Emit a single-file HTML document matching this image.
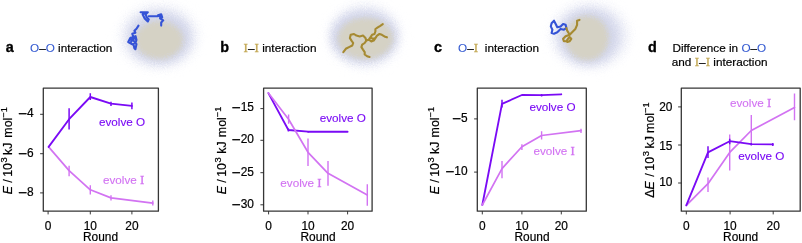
<!DOCTYPE html>
<html lang="en"><head><meta charset="utf-8"><title>Interaction energies</title>
<style>
html,body{margin:0;padding:0;background:#fff;}
svg{display:block;}
text{font-family:"Liberation Sans",sans-serif;font-size:11.9px;fill:#000;stroke:#000;stroke-width:0.2px;}
.ser{font-family:"Liberation Serif",serif;font-size:12.9px;}
.b{font-weight:bold;font-size:14.4px;fill:#000;stroke:#000;stroke-width:0.3px;}
.it{font-style:italic;}
.tt{font-size:11.75px;}
.ev{font-size:11.7px;stroke-width:0.12px;}
.tt .ser{font-size:13.2px;}
.tt .gd{fill:#c4aa58;stroke:#c4aa58;}
.tt .gd .ser{stroke:#c4aa58;stroke-width:0.3px;}
.sup{font-size:9.4px;}
.yl{font-size:12.4px;}
.mn{font-size:15.5px;}
.lt .ser{stroke:#d273f2;stroke-width:0.3px;}.gd .ser{stroke:#b8962e;stroke-width:0.25px;}
.dk{fill:#7a0af5;stroke:#7a0af5;}.lt{fill:#d273f2;stroke:#d273f2;}.bl{fill:#3359d1;stroke:#3359d1;stroke-width:0.05px;}.gd{fill:#b8962e;stroke:#b8962e;}
.fr{fill:none;stroke:#363636;stroke-width:1.3;stroke-linejoin:round;}
.tk{stroke:#222;stroke-width:0.9;fill:none;}
.lo{stroke:#7a0af5;stroke-width:1.85;fill:none;stroke-linejoin:round;stroke-linecap:round;}
.li{stroke:#d273f2;stroke-width:1.7;fill:none;stroke-linejoin:round;stroke-linecap:round;}
.eo{stroke:#7a0af5;stroke-width:1.5;fill:none;}
.ei{stroke:#d273f2;stroke-width:1.4;fill:none;}
.cb{fill:none;stroke:#3453d6;stroke-width:2.1;filter:url(#cf);stroke-linejoin:round;stroke-linecap:round;}
.cg{fill:none;stroke:#a68a30;stroke-width:2.1;filter:url(#cf);stroke-linejoin:round;stroke-linecap:round;}
</style></head><body>
<svg width="802" height="243" viewBox="0 0 802 243">
<defs>
<filter id="bl2" x="-40%" y="-40%" width="180%" height="180%"><feGaussianBlur stdDeviation="2.4" result="b"/><feTurbulence type="fractalNoise" baseFrequency="0.9" numOctaves="2" seed="3" result="n"/><feDisplacementMap in="b" in2="n" scale="5" xChannelSelector="R" yChannelSelector="G"/></filter>
<filter id="bl5" x="-40%" y="-40%" width="180%" height="180%"><feGaussianBlur stdDeviation="4.5" result="b"/><feTurbulence type="fractalNoise" baseFrequency="0.9" numOctaves="2" seed="7" result="n"/><feDisplacementMap in="b" in2="n" scale="9" xChannelSelector="R" yChannelSelector="G"/></filter>
<filter id="bl8" x="-50%" y="-50%" width="200%" height="200%"><feGaussianBlur stdDeviation="6" result="b"/><feTurbulence type="fractalNoise" baseFrequency="0.9" numOctaves="2" seed="11" result="n"/><feDisplacementMap in="b" in2="n" scale="12" xChannelSelector="R" yChannelSelector="G"/></filter>
<filter id="cf" x="-20%" y="-20%" width="140%" height="140%"><feGaussianBlur stdDeviation="0.45"/></filter>
</defs>
<g id="blob-a">
<ellipse cx="159" cy="36.5" rx="37" ry="30" fill="#e6e8f4" filter="url(#bl8)"/>
<ellipse cx="159.5" cy="38" rx="30.5" ry="25" fill="#d2d5e9" filter="url(#bl5)"/>
<ellipse cx="159.3" cy="40" rx="23.6" ry="18.8" fill="#d5d2c5" filter="url(#bl2)"/>
<path class="cb" d="M140.6 12.2L147.8 12.2L145.7 14.3L146.7 17.3L148.8 19.4L147.8 21.5L144.7 18.4L142.6 14.3L146 13.2M148.8 16.3L158 16.3M158 15.3L161.2 14.3L162.2 17.3L160.1 18.4L163.2 20.4L161.2 22.5L161.2 25.6M159 15.6L160.4 17.2"/>
<path class="cb" d="M138.5 25.6L136.5 28.7L134.4 30.7L135.4 32.8L132.3 33.8L133.4 36.9L130.3 37.9L128.2 42L130.3 43.1L132.3 40L134.4 37.9L136.5 40L135.4 43.1L133.4 44.1L134.4 48.2L135.4 49.2L136.5 44.1M133.4 36.9L135.6 36.2L136.5 40M130.3 37.9L131.6 41M128.2 42L132.3 44.4L135.4 43.1M131 38.5L134.4 41.5"/>
</g>
<g id="blob-b">
<ellipse cx="365" cy="35.5" rx="33" ry="29.5" fill="#e6e8f4" filter="url(#bl8)"/>
<ellipse cx="364" cy="37" rx="33" ry="25.5" fill="#d2d5e9" filter="url(#bl5)"/>
<ellipse cx="365.5" cy="38.5" rx="27.5" ry="20.5" fill="#d5d2c5" filter="url(#bl2)"/>
<path class="cg" d="M343.3 52.1L345.8 48.8L349 47.1L352.3 45.5L353.2 43L351.5 40.6L349.9 38.1L350.7 34.8L354 34L356.4 35.6L359.7 36.4L363 35.6L365.5 38.1L366.3 40.6L364.7 43L362.2 44.7L361.4 47.1L363 49.6L364.7 52.1L364.7 54.5L367.1 56.2L369.6 57M366.3 40.6L368.8 39.7L370.4 37.3L372.1 34.8L374.5 34L375.4 31.5L375.4 29L377.8 27.4L380.3 25.8L382.8 24.1M370.4 37.3L372.9 38.9L375.4 38.1L373.7 40.6L371.3 41.4L368.8 39.7M375.4 38.1L377 35.6L379.5 34L381.9 34.8L384.4 36.4L386.9 37.3"/>
</g>
<g id="blob-c">
<ellipse cx="590" cy="35.5" rx="37" ry="31" fill="#e6e8f4" filter="url(#bl8)"/>
<ellipse cx="588.5" cy="37" rx="29" ry="27" fill="#d2d5e9" filter="url(#bl5)"/>
<ellipse cx="587" cy="38" rx="21.5" ry="22.3" fill="#d5d2c5" filter="url(#bl2)"/>
<path class="cb" d="M554 20.7L551.6 23.2L550.8 26.4L552.4 29.7L551.6 33L554 33.8L557.3 32.2L560.6 28.9L563.9 29.7L566.4 28.1L565.6 24.8L563.1 24L560.6 26.4L557.3 27.3L555.7 24Z"/>
<path class="cg" d="M579.5 19.9L577.1 20.7L577.1 24.8L575.4 28.9L572.1 32.2L569.7 34.7L565.6 36.3L563.1 38.8L563.9 41.2L566.4 41.2L568 38.8L569.7 37.1L571.3 38.8L569.7 41.2L567.2 42M566.4 28.1L567.2 30.6L569.7 34.7"/>
</g>

<text class="b" x="5.8" y="51.6">a</text>
<text class="tt" x="30" y="51.6"><tspan class="bl">O</tspan>–<tspan class="bl">O</tspan> interaction</text>
<text class="b" x="220.3" y="51.6">b</text>
<text class="tt" x="243.6" y="51.6"><tspan class="gd"><tspan class="ser">I</tspan></tspan>–<tspan class="gd"><tspan class="ser">I</tspan></tspan> interaction</text>
<text class="b" x="434" y="51.6">c</text>
<text class="tt" x="458" y="51.6"><tspan class="bl">O</tspan>–<tspan class="gd"><tspan class="ser">I</tspan></tspan></text>
<text class="tt" x="484.8" y="51.6">interaction</text>
<text class="b" x="647.9" y="51.6">d</text>
<text class="tt" x="672.4" y="51.6">Difference in <tspan class="bl">O</tspan>–<tspan class="bl">O</tspan></text>
<text class="tt" x="671.8" y="65.5">and <tspan class="gd"><tspan class="ser">I</tspan></tspan>–<tspan class="gd"><tspan class="ser">I</tspan></tspan> interaction</text>
<g id="panel-a">
<polyline class="li" points="48.6,146.9 69.1,170.6 90.3,189.8 111,197.9 152.8,203.1"/>
<path class="ei" d="M69.1 165.7V176.3M90.3 185.3V194.4M111 195.2V200.6M152.8 200.6V205.6"/>
<polyline class="lo" points="48.6,146.9 69.1,119.2 90.3,97 111,103.7 131.9,105.8"/>
<path class="eo" d="M69.1 108.2V129.6M90.3 93.2V100M111 101.7V105.9M131.9 102.6V109.2"/>
<rect class="fr" x="43.3" y="88.2" width="115.1" height="123"/>
<path class="tk" d="M48.1 211.2v3.2M90.3 211.2v3.2M131.9 211.2v3.2M43.3 114.3h-3.2M43.3 153.7h-3.2M43.3 192.9h-3.2"/>
<text x="48.1" y="229.5" text-anchor="middle">0</text>
<text x="90.3" y="229.5" text-anchor="middle">10</text>
<text x="131.9" y="229.5" text-anchor="middle">20</text>
<text x="33.6" y="116.6" text-anchor="end"><tspan class="mn" dy="1.9">−</tspan><tspan dy="-1.9">4</tspan></text>
<text x="33.6" y="157.1" text-anchor="end"><tspan class="mn" dy="1.9">−</tspan><tspan dy="-1.9">6</tspan></text>
<text x="33.6" y="195.9" text-anchor="end"><tspan class="mn" dy="1.9">−</tspan><tspan dy="-1.9">8</tspan></text>
<text x="100.5" y="241.4" text-anchor="middle">Round</text>
<text class="yl" transform="rotate(-90)" y="12.3"><tspan class="it" x="-194.3">E</tspan><tspan x="-182.8">/</tspan><tspan x="-176.8">10</tspan><tspan class="sup" dx="0.6" dy="-5">3</tspan><tspan x="-155" dy="5">kJ</tspan><tspan x="-137.7">mol</tspan><tspan class="sup" dy="-5">−1</tspan></text>
<text class="ev dk" x="99" y="126.1">evolve O</text>
<text class="ev lt" x="103" y="183.6">evolve <tspan class="ser">I</tspan></text>
</g>
<g id="panel-b">
<polyline class="lo" points="268.4,93.1 288.4,130 308,131.7 327.8,131.7 347.6,131.7"/>
<path class="eo" d="M288.4 128.5V131.5M308 131V132.4"/>
<polyline class="li" points="268.4,93.1 288.6,119.2 308,152.3 328,173.3 367.3,195"/>
<path class="ei" d="M288.6 114.5V123.7M308 138.4V166M328 161V185.8M367.3 184.3V205.8"/>
<rect class="fr" x="263.6" y="88.2" width="108.5" height="123"/>
<path class="tk" d="M268.6 211.2v3.2M308 211.2v3.2M347.6 211.2v3.2M263.6 108.6h-3.2M263.6 140.3h-3.2M263.6 172.7h-3.2M263.6 204.8h-3.2"/>
<text x="268.6" y="229.5" text-anchor="middle">0</text>
<text x="308" y="229.5" text-anchor="middle">10</text>
<text x="347.6" y="229.5" text-anchor="middle">20</text>
<text x="253.9" y="110.9" text-anchor="end"><tspan class="mn" dy="1.9">−</tspan><tspan dy="-1.9">15</tspan></text>
<text x="253.9" y="143.1" text-anchor="end"><tspan class="mn" dy="1.9">−</tspan><tspan dy="-1.9">20</tspan></text>
<text x="253.9" y="176.1" text-anchor="end"><tspan class="mn" dy="1.9">−</tspan><tspan dy="-1.9">25</tspan></text>
<text x="253.9" y="208.2" text-anchor="end"><tspan class="mn" dy="1.9">−</tspan><tspan dy="-1.9">30</tspan></text>
<text x="318" y="241.4" text-anchor="middle">Round</text>
<text class="yl" transform="rotate(-90)" y="226"><tspan class="it" x="-194.3">E</tspan><tspan x="-182.8">/</tspan><tspan x="-176.8">10</tspan><tspan class="sup" dx="0.6" dy="-5">3</tspan><tspan x="-153.8" dy="5">kJ</tspan><tspan x="-137.2">mol</tspan><tspan class="sup" dy="-5">−1</tspan></text>
<text class="ev dk" x="319.7" y="122.3">evolve O</text>
<text class="ev lt" x="280.3" y="187.2">evolve <tspan class="ser">I</tspan></text>
</g>
<g id="panel-c">
<polyline class="lo" points="482.3,205 502,103.9 521.9,95 541.6,95.2 561.3,94.3"/>
<path class="eo" d="M502 99.8V107.4M541.6 93.9V96.5"/>
<polyline class="li" points="482.3,205 502,168.6 521.9,146.7 541.6,135.5 581,130.7"/>
<path class="ei" d="M502 161V178.3M521.9 144.2V150M541.6 131.2V139.5M581 128.7V133"/>
<rect class="fr" x="477.3" y="88.2" width="109" height="123"/>
<path class="tk" d="M482.3 211.2v3.2M521.9 211.2v3.2M561.3 211.2v3.2M477.3 118.9h-3.2M477.3 172.1h-3.2"/>
<text x="482.3" y="229.5" text-anchor="middle">0</text>
<text x="521.9" y="229.5" text-anchor="middle">10</text>
<text x="561.3" y="229.5" text-anchor="middle">20</text>
<text x="467.6" y="122.2" text-anchor="end"><tspan class="mn" dy="1.9">−</tspan><tspan dy="-1.9">5</tspan></text>
<text x="467.6" y="174.8" text-anchor="end"><tspan class="mn" dy="1.9">−</tspan><tspan dy="-1.9">10</tspan></text>
<text x="532" y="241.4" text-anchor="middle">Round</text>
<text class="yl" transform="rotate(-90)" y="439.2"><tspan class="it" x="-194.3">E</tspan><tspan x="-182.8">/</tspan><tspan x="-176.8">10</tspan><tspan class="sup" dx="0.6" dy="-5">3</tspan><tspan x="-154" dy="5">kJ</tspan><tspan x="-137.4">mol</tspan><tspan class="sup" dy="-5">−1</tspan></text>
<text class="ev dk" x="529.4" y="111.1">evolve O</text>
<text class="ev lt" x="533.5" y="155">evolve <tspan class="ser">I</tspan></text>
</g>
<g id="panel-d">
<polyline class="li" points="686.3,205.4 708,183.7 729.7,152.4 751.3,130.5 794.5,107.4"/>
<path class="ei" d="M708 177.4V192M729.7 134.5V170.6M751.3 114.9V145M794.5 93.6V120.2"/>
<polyline class="lo" points="686.3,205.4 708,152.4 729.7,141.2 751.3,144.2 772.8,144.4"/>
<path class="eo" d="M708 146.2V158M729.7 138.7V144.2M751.3 143V145.6M772.8 143V146"/>
<rect class="fr" x="681.3" y="88.2" width="118.9" height="123"/>
<path class="tk" d="M686.3 211.2v3.2M730.1 211.2v3.2M773.2 211.2v3.2M681.3 106.9h-3.2M681.3 145h-3.2M681.3 183h-3.2"/>
<text x="686.3" y="229.5" text-anchor="middle">0</text>
<text x="730.1" y="229.5" text-anchor="middle">10</text>
<text x="773.2" y="229.5" text-anchor="middle">20</text>
<text x="672.4" y="110.9" text-anchor="end">20</text>
<text x="672.4" y="149.5" text-anchor="end">15</text>
<text x="672.4" y="186.3" text-anchor="end">10</text>
<text x="740.6" y="241.4" text-anchor="middle">Round</text>
<text class="yl" transform="rotate(-90)" y="653.6"><tspan x="-197.84">Δ</tspan><tspan class="it">E</tspan><tspan x="-176.7">/</tspan><tspan x="-170.7">10</tspan><tspan class="sup" dx="0.6" dy="-5">3</tspan><tspan x="-148.4" dy="5">kJ</tspan><tspan x="-132.9">mol</tspan><tspan class="sup" dy="-5">−1</tspan></text>
<text class="ev dk" x="738.2" y="160">evolve O</text>
<text class="ev lt" x="730" y="107.3">evolve <tspan class="ser">I</tspan></text>
</g>
</svg>
</body></html>
